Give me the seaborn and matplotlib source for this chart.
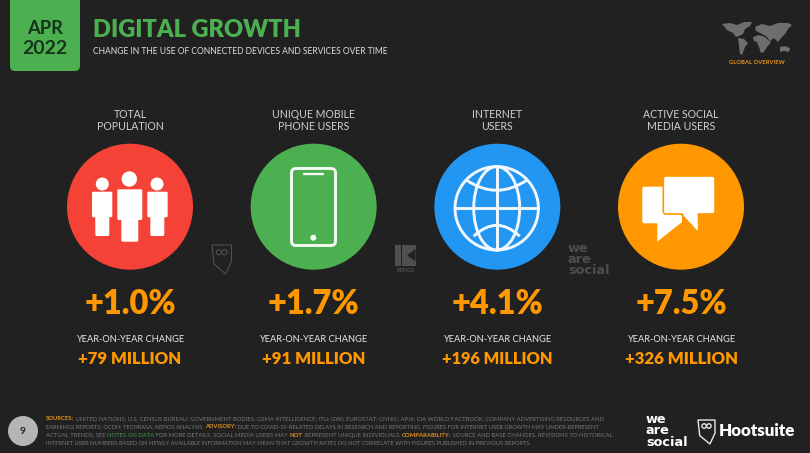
import matplotlib
matplotlib.use("Agg")
import matplotlib.pyplot as plt
import pandas as pd
import seaborn as sns
from matplotlib.patches import Circle, Ellipse, FancyBboxPatch, Polygon, PathPatch, Rectangle
from matplotlib.path import Path

# ---------- data ----------
categories = ["TOTAL\nPOPULATION", "UNIQUE MOBILE\nPHONE USERS", "INTERNET\nUSERS", "ACTIVE SOCIAL\nMEDIA USERS"]
yoy_percent = [1.0, 1.7, 4.1, 7.5]
yoy_million = [79, 91, 196, 326]
circle_colors = ["#F44336", "#4CAF50", "#2196F3", "#FF9800"]
title = "DIGITAL GROWTH"
subtitle = "CHANGE IN THE USE OF CONNECTED DEVICES AND SERVICES OVER TIME"
footer_lines = [
    [("SOURCES:", "o"), (" UNITED NATIONS; U.S. CENSUS BUREAU; GOVERNMENT BODIES; GSMA INTELLIGENCE; ITU; GWI; EUROSTAT; CNNIC; APJII; CIA WORLD FACTBOOK; COMPANY ADVERTISING RESOURCES AND", "g")],
    [("EARNINGS REPORTS; OCDH; TECHRASA; KEPIOS ANALYSIS. ", "g"), ("ADVISORY:", "o"), (" DUE TO COVID-19-RELATED DELAYS IN RESEARCH AND REPORTING, FIGURES FOR INTERNET USER GROWTH MAY UNDER-REPRESENT", "g")],
    [("ACTUAL TRENDS. SEE ", "g"), ("NOTES ON DATA", "n"), (" FOR MORE DETAILS. SOCIAL MEDIA USERS MAY ", "g"), ("NOT", "o"), (" REPRESENT UNIQUE INDIVIDUALS. ", "g"), ("COMPARABILITY:", "o"), (" SOURCE AND BASE CHANGES. REVISIONS TO HISTORICAL", "g")],
    [("INTERNET USER NUMBERS BASED ON NEWLY AVAILABLE INFORMATION MAY MEAN THAT GROWTH RATES DO NOT CORRELATE WITH FIGURES PUBLISHED IN PREVIOUS REPORTS.", "g")],
]

# ---------- style ----------
BG = "#212121"
GREEN = "#4CAF50"
ORANGE = "#FF9800"
sns.set_theme(style="dark", rc={"figure.facecolor": BG, "axes.facecolor": BG})
plt.rcParams["font.family"] = ["Lato", "DejaVu Sans"]

fig = plt.figure(figsize=(8.1, 4.53), dpi=100, facecolor=BG)

# the four discs, placed by the category scale of their own axes
ax_cat = fig.add_axes([0, 0, 1, 1], zorder=1)
STEP = 183.67
X0 = 130.0
CY = 206.7
df = pd.DataFrame({"metric": categories, "row": [0] * len(categories)})
sns.scatterplot(data=df, x="metric", y="row", hue="metric", palette=circle_colors,
                s=8230, linewidth=0, legend=False, ax=ax_cat)
ax_cat.set_xlim(-X0 / STEP, (810 - X0) / STEP)
ax_cat.set_ylim(-(453 - CY), CY)
ax_cat.set_axis_off()

# overlay in pixel coordinates for text and pictograms
ax = fig.add_axes([0, 0, 1, 1], zorder=2)
ax.set_xlim(0, 810)
ax.set_ylim(453, 0)
ax.patch.set_alpha(0)
ax.set_axis_off()


def T(x, y, s, size, color="white", weight="normal", ha="center", width=None, **kw):
    t = ax.text(x, y, s, fontsize=size, color=color, fontweight=weight, ha=ha, va="center", **kw)
    if width:
        r = fig.canvas.get_renderer()
        t.set_fontsize(size * width / t.get_window_extent(r).width)
    return t


def rbox(x0, y0, x1, y1, r, **kw):
    p = FancyBboxPatch((x0 + r, y0 + r), x1 - x0 - 2 * r, y1 - y0 - 2 * r,
                       boxstyle=f"round,pad={r},rounding_size={r}", **kw)
    ax.add_patch(p)
    return p


def owl(x0, y0, x1, y1, color, lw):
    xm = (x0 + x1) / 2
    w = x1 - x0
    h = y1 - y0
    ax.add_patch(Polygon([(x0, y0), (x1, y0), (x1, y0 + .55 * h), (xm + .2 * w, y1), (x0 + .1 * w, y0 + .65 * h)],
                         closed=True, fc="none", ec=color, lw=lw))
    for dx in (-.14, .14):
        ax.add_patch(Circle((xm + dx * w, y0 + .25 * h), .13 * w, fc="none", ec=color, lw=lw))


# header
rbox(10, -10, 80, 71, 5, fc=GREEN, ec="none")
T(45, 29, "APR", 14.5, "#14351A", "bold", width=36)
T(45, 48.5, "2022", 14.5, "#14351A", "bold", width=45)
T(93, 30, title, 19, GREEN, "heavy", ha="left", width=209)
T(93, 51, subtitle, 7, "#DDDDDD", ha="left", width=296)

# world map, silhouette
map_shapes = [
    [(722, 24), (730, 23), (737, 25), (744, 22), (752, 22), (750, 26), (745, 29), (743, 34), (739, 36), (736, 37), (733, 33), (727, 30)],
    [(738, 38), (744, 39), (748, 43), (745, 47), (742, 55), (740, 54), (739, 46)],
    [(755, 27), (762, 24), (770, 26), (778, 23), (788, 23), (792, 25), (788, 29), (785, 34), (782, 37), (778, 42), (774, 38), (770, 41), (766, 36), (760, 33), (756, 31)],
    [(753, 37), (759, 35), (765, 37), (768, 40), (771, 42), (767, 47), (764, 52), (761, 53), (759, 47), (757, 42), (754, 41)],
    [(780, 47), (785, 46), (790, 48), (789, 52), (784, 51), (780, 52)],
]
for pts in map_shapes:
    ax.add_patch(Polygon(pts, closed=True, fc="#6E6E6E", ec="none"))
T(757, 62, "GLOBAL OVERVIEW", 4, "#E8931E", "bold", width=56)

# columns
for i, cat in enumerate(categories):
    cx = X0 + i * STEP
    top, bottom = cat.split("\n")
    T(cx, 114, top, 7.6, "#D0D0D0")
    T(cx, 127, bottom, 7.6, "#D0D0D0")
    T(cx, 304, f"+{yoy_percent[i]:.1f}%", 25, ORANGE, "heavy", width=92)
    T(cx, 340, "YEAR-ON-YEAR CHANGE", 7.5, "#E8E8E8", width=108)
    T(cx, 359.5, f"+{yoy_million[i]} MILLION", 12, ORANGE, "heavy",
      width={79: 103, 91: 104, 196: 111, 326: 113}[yoy_million[i]])

# people
W = "white"
for hx, hy, hr, bx0, bx1, by0, by1, lx0, lx1, ly1 in [
    (102.3, 184, 6.5, 92, 112.3, 191.7, 217.3, 95.3, 109.3, 236),
    (157, 184, 6.5, 147.3, 167.7, 191.7, 217.3, 150.3, 164.3, 236),
    (129.3, 179, 7.7, 117.3, 142.3, 189.3, 220, 121.3, 138.3, 241.7),
]:
    ax.add_patch(Circle((hx, hy), hr, fc=W, ec="none"))
    rbox(bx0, by0, bx1, by1, 1.5, fc=W, ec="none")
    rbox(lx0, by1 - 5, lx1, ly1, 1.5, fc=W, ec="none")

# phone
PW = "#F2FAF2"
rbox(291.5, 168.5, 335.5, 245.5, 4.5, fc="none", ec=PW, lw=2.1)
ax.plot([304.3, 322.7], [174.3, 174.3], color=PW, lw=1.7, solid_capstyle="round")
ax.add_patch(Circle((313.3, 237.7), 3, fc=PW, ec="none"))

# globe
gx, gy, gr = 496.7, 208.3, 41.7
GL = "#F2F8FE"
lw = 2.1
ax.add_patch(Circle((gx, gy), gr, fc="none", ec=GL, lw=lw))
ax.add_patch(Ellipse((gx, gy), 46, 2 * gr, fc="none", ec=GL, lw=lw))
ax.plot([gx, gx], [gy - gr, gy + gr], color=GL, lw=lw)
ax.plot([gx - gr, gx + gr], [gy, gy], color=GL, lw=lw)
for half, end, ctrl in [(30, -28, -8), (23, 28, 6)]:
    path = Path([(gx - half, gy + end), (gx, gy + ctrl), (gx + half, gy + end)],
                [Path.MOVETO, Path.CURVE3, Path.CURVE3])
    ax.add_patch(PathPatch(path, fc="none", ec=GL, lw=lw))

# speech bubbles
rbox(642.3, 186.7, 682, 223.3, 2, fc=W, ec="none")
ax.add_patch(Polygon([(657.3, 222), (657.3, 241.7), (682, 222)], closed=True, fc=W, ec="none"))
ax.add_patch(Polygon([(680, 213), (698.3, 232.7), (698.3, 213)], closed=True, fc=W, ec=ORANGE, lw=1.2))
rbox(663.3, 176, 715, 214, 2.5, fc=W, ec=ORANGE, lw=1.2)
ax.add_patch(Polygon([(681.5, 212), (697.5, 230.5), (697.5, 212)], closed=True, fc=W, ec="none"))

# watermarks
owl(212, 245, 231.5, 274, "#505050", 0.8)
ax.add_patch(Rectangle((395, 245), 20.5, 20.5, fc="#505050", ec="none"))
ax.add_patch(Rectangle((400.5, 245), 1.5, 20.5, fc=BG, ec="none"))
ax.add_patch(Polygon([(415.5, 249), (407, 255.2), (415.5, 261.5)], closed=True, fc=BG, ec="none"))
T(405.5, 271, "KEPIOS", 3.8, "#505050", "bold")
T(568, 259.5, "we\nare\nsocial", 9.3, "#4E4E4E", "bold", ha="left", family="DejaVu Sans",
  linespacing=0.82, multialignment="left")

# footer
ax.add_patch(Circle((23, 431), 15, fc="#B5B5B5", ec="none"))
T(23, 431.5, "9", 7.5, "#222222", "bold")

FOOT = {"g": "#787878", "o": "#E8931E", "n": "#3E9B48"}
renderer = fig.canvas.get_renderer()
for line, yy, target in zip(footer_lines, (418.5, 427, 435.5, 443.5), (566, 566, 569, 494)):
    parts = []
    xx = 46.0
    for s, c in line:
        t = ax.text(xx, yy, s.replace(" ", "\u00a0"), fontsize=4.2, color=FOOT[c], va="center", ha="left",
                    fontweight="bold" if c == "o" else "normal")
        parts.append(t)
        xx += t.get_window_extent(renderer).width
    ratio = target / (xx - 46.0)
    xx = 46.0
    for t in parts:
        t.set_fontsize(4.2 * ratio)
        t.set_x(xx)
        xx += t.get_window_extent(renderer).width

# logos
T(646, 431, "we\nare\nsocial", 9.3, "white", "bold", ha="left", family="DejaVu Sans",
  linespacing=0.82, multialignment="left")
owl(698, 420, 715, 444, "#E6E6E6", 1.0)
T(719, 431.5, "Hootsuite", 12.5, "white", "heavy", ha="left", width=78)

fig.savefig("out.png", dpi=100, facecolor=BG)
